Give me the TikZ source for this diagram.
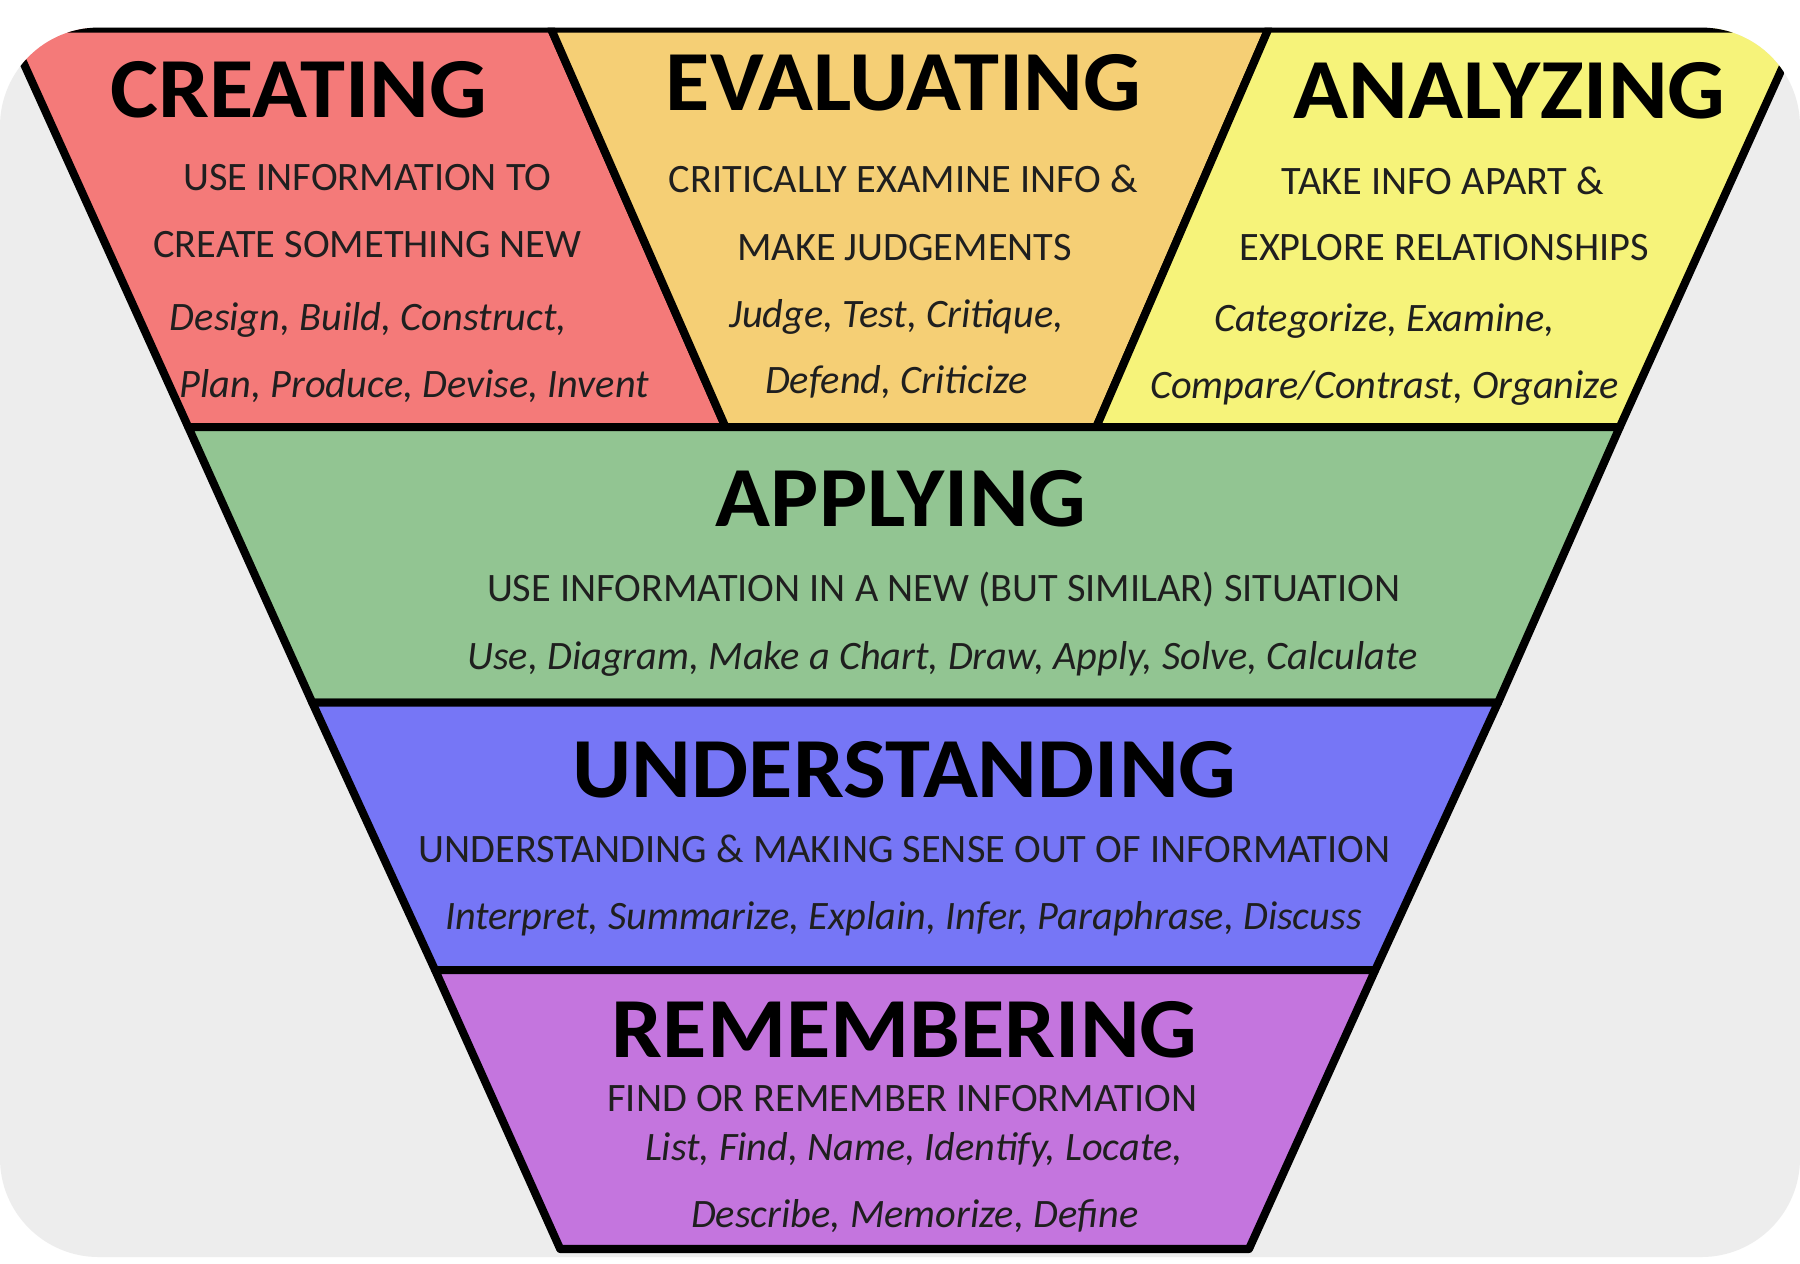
\documentclass[tikz,border=0pt]{standalone}
\usepackage{fontspec}
\setmainfont{Carlito}
\newfontfamily\titlefont{Carlito}[FakeStretch=1.06]
\usepackage{tikz}
\usetikzlibrary{positioning}
\definecolor{backgrey}{HTML}{EDEDED}
\definecolor{createred}{HTML}{F47A79}
\definecolor{evalorange}{HTML}{F5CF75}
\definecolor{analyzeyellow}{HTML}{F6F37A}
\definecolor{applygreen}{HTML}{92C592}
\definecolor{underblue}{HTML}{7676F6}
\definecolor{rememberpurple}{HTML}{C475DE}
\tikzstyle{band} = [draw=black, line width=2pt, line join=round]
\tikzstyle{title} = [anchor=base, inner sep=0pt, font=\titlefont\fontsize{21.2}{24}\selectfont\bfseries]
\tikzstyle{info} = [anchor=base, inner sep=0pt, text=black!88, font=\fontsize{10}{12}\selectfont]
\tikzstyle{verbs} = [anchor=base, inner sep=0pt, text=black!88, font=\fontsize{10}{12}\selectfont\itshape]

\begin{document}
\begin{tikzpicture}[x=0.1mm, y=-0.1mm]
 \useasboundingbox (0,0) rectangle (1568,1101);
 \fill[white] (0,0) rectangle (1568,1101);
 \begin{scope}
  \clip[rounded corners=8.6mm] (0,24) rectangle (1568,1095);
  \fill[backgrey] (0,0) rectangle (1568,1101);
  % top row
  \draw[band, fill=createred] (7,25) -- (480,25) -- (632,372) -- (164,372) -- cycle;
  \draw[band, fill=evalorange] (480,25) -- (1105,25) -- (955,372) -- (632,372) -- cycle;
  \draw[band, fill=analyzeyellow] (1105,25) -- (1568,25) -- (1411,372) -- (955,372) -- cycle;
  % lower bands
  \draw[band, fill=applygreen] (164,372) -- (1411,372) -- (1305,612) -- (272,612) -- cycle;
  \draw[band, fill=underblue] (272,612) -- (1305,612) -- (1198,845) -- (379,845) -- cycle;
  \draw[band, fill=rememberpurple] (379,845) -- (1198,845) -- (1088,1088) -- (488,1088) -- cycle;
 \end{scope}

 \node (creating) [title] at (260,102) {CREATING};
 \node (cr1) [info] at (320,166) {USE INFORMATION TO};
 \node (cr2) [info] at (320,224) {CREATE SOMETHING NEW};
 \node (cr3) [verbs] at (321,288) {Design, Build, Construct,};
 \node (cr4) [verbs] at (361,346) {Plan, Produce, Devise, Invent};

 \node (evaluating) [title] at (787,96) {EVALUATING};
 \node (ev1) [info] at (787,168) {CRITICALLY EXAMINE INFO \&};
 \node (ev2) [info] at (788,227) {MAKE JUDGEMENTS};
 \node (ev3) [verbs] at (781,285) {Judge, Test, Critique,};
 \node (ev4) [verbs] at (781,343) {Defend, Criticize};

 \node (analyzing) [title] at (1315,103) {ANALYZING};
 \node (an1) [info] at (1257,169) {TAKE INFO APART \&};
 \node (an2) [info] at (1258,227) {EXPLORE RELATIONSHIPS};
 \node (an3) [verbs] at (1206,289) {Categorize, Examine,};
 \node (an4) [verbs] at (1206,347) {Compare/Contrast, Organize};

 \node (applying) [title] at (785,459) {APPLYING};
 \node (ap1) [info] at (822,524) {USE INFORMATION IN A NEW (BUT SIMILAR) SITUATION};
 \node (ap2) [verbs] at (821,583) {Use, Diagram, Make a Chart, Draw, Apply, Solve, Calculate};

 \node (understanding) [title] at (788,695) {UNDERSTANDING};
 \node (un1) [info] at (788,751) {UNDERSTANDING \& MAKING SENSE OUT OF INFORMATION};
 \node (un2) [verbs] at (787,810) {Interpret, Summarize, Explain, Infer, Paraphrase, Discuss};

 \node (remembering) [title] at (788,921) {REMEMBERING};
 \node (re1) [info] at (786,968) {FIND OR REMEMBER INFORMATION};
 \node (re2) [verbs] at (796,1011) {List, Find, Name, Identify, Locate,};
 \node (re3) [verbs] at (797,1069) {Describe, Memorize, Define};
\end{tikzpicture}
\end{document}
